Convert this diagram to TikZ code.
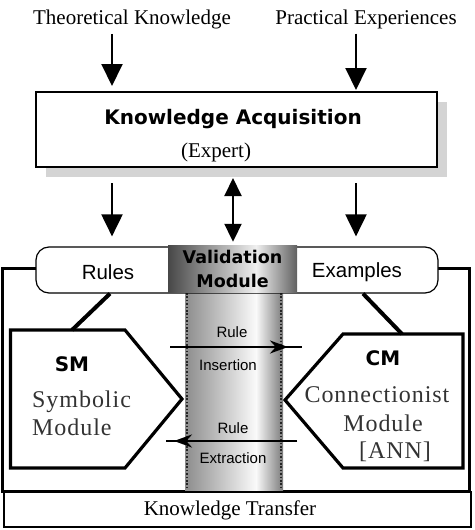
\documentclass[tikz,border=0pt]{standalone}
\usepackage{fontspec}
\setmainfont{Liberation Serif}
\newfontfamily\chifont{DejaVu Sans}
\newfontfamily\helv{Liberation Sans}
\newfontfamily\spacedserif[LetterSpace=4]{Liberation Serif}
\usetikzlibrary{arrows.meta}
\begin{document}
\begin{tikzpicture}[x=1pt,y=-1pt,
  arr/.style={line width=2pt,-{Triangle[width=21pt,length=22pt]}},
  darr/.style={line width=2pt,{Triangle[width=17pt,length=18pt]}-{Triangle[width=17pt,length=18pt]}},
  serif/.style={inner sep=0pt,font=\fontsize{21}{24}\selectfont},
  bigserif/.style={inner sep=0pt,text=black!80,font=\spacedserif\fontsize{24}{28}\selectfont},
  chi/.style={inner sep=0pt,font=\chifont\bfseries\fontsize{20}{24}\selectfont},
  smallsans/.style={inner sep=0pt,font=\helv\fontsize{15}{17}\selectfont},
  midsans/.style={inner sep=0pt,font=\helv\fontsize{20.5}{24}\selectfont},
  modshape/.style={line width=3.2pt,fill=white,line join=miter},
  link/.style={line width=4pt},
  ruleline/.style={line width=2.6pt}]
\useasboundingbox (0,0) rectangle (474,530);
\fill[white] (0,0) rectangle (474,530);

% reference x positions
\coordinate (lx) at (112,0);
\coordinate (mx) at (233,0);
\coordinate (rx) at (356,0);

% top texts
\node[serif] (theo) at (132,19) {Theoretical Knowledge};
\node[serif] (prac) at (366,19) {Practical Experiences};

% knowledge acquisition box
\fill[black!17] (46,102) rectangle (447,177);
\node[draw,line width=2pt,fill=white,minimum width=401pt,minimum height=75pt,inner sep=0pt] (ka) at (236.5,129.5) {};
\node[chi] (katitle) at (233,119) {Knowledge Acquisition};
\node[serif] (kaexp) at (216,152) {(Expert)};

\draw[arr,shorten <=5pt,shorten >=5pt] (lx |- theo.south) -- (lx |- ka.north);
\draw[arr,shorten <=5pt,shorten >=1pt] (rx |- prac.south) -- (rx |- ka.north);

% outer frame
\draw[line width=3pt] (2.5,268) rectangle (469,491.5);
% knowledge transfer
\node[draw,line width=2.6pt,fill=white,minimum width=467pt,minimum height=35pt,inner sep=0pt] (kt) at (237.5,509.5) {};
\node[serif] (kttext) at (230,510) {Knowledge Transfer};

% validation column (lower)
\shade[left color=black!45,right color=black!2] (185,292) rectangle (256,490);
\shade[left color=black!2,right color=black!52] (256,292) rectangle (283,490);
\node[minimum width=98pt,minimum height=198pt,inner sep=0pt] (col) at (234,391) {};
\draw[line width=1.6pt,dash pattern=on 1.6pt off 1.8pt,black!85] (187,293) -- (187,490);
\draw[line width=1.6pt,dash pattern=on 1.6pt off 1.8pt,black!85] (281,293) -- (281,490);

% rules / examples rounded box
\node[draw,line width=1.2pt,rounded corners=13pt,fill=white,minimum width=402pt,minimum height=46pt,inner sep=0pt] (rebox) at (237,270) {};
\node[midsans] (rules) at (108,272) {Rules};
\node[midsans] (examples) at (357,272) {Examples};

% validation module top
\shade[left color=black!72,right color=black!6] (168,245) rectangle (256,292);
\shade[left color=black!6,right color=black!62] (256,245) rectangle (297,292);
\node[minimum width=129pt,minimum height=47pt,inner sep=0pt] (val) at (232.5,268.5) {};
\node[chi,font=\chifont\bfseries\fontsize{17.5}{24}\selectfont,align=center] (valtext) at (232.5,268.5) {Validation\\Module};

% arrows below knowledge acquisition
\draw[arr,shorten <=15pt,shorten >=10pt] (lx |- ka.south) -- (lx |- rebox.north);
\draw[arr,shorten <=15pt,shorten >=10pt] (rx |- ka.south) -- (rx |- rebox.north);
\draw[darr,shorten <=10pt,shorten >=3pt] (mx |- ka.south) -- (mx |- val.north);

% symbolic module
\draw[modshape] (10.5,330) -- (125,330) -- (182,399) -- (125,468) -- (10.5,468) -- cycle;
\coordinate (smtop) at (72,330);
\node[chi] (smlabel) at (72,364) {SM};
\node[bigserif,anchor=west,align=left] (smname) at (32,413.5) {Symbolic\\Module};

% connectionist module
\draw[modshape] (463,334) -- (343,334) -- (285,400) -- (343,468) -- (463,468) -- cycle;
\coordinate (cmtop) at (402,334);
\node[chi] (cmlabel) at (383,358) {CM};
\node[bigserif] (cmname1) at (377,395) {Connectionist};
\node[bigserif] (cmname2) at (383,423) {Module};
\node[bigserif] (cmname3) at (395,452) {[ANN]};

% links
\draw[link] (rebox.south -| 110,0) -- (smtop);
\draw[link] (rebox.south -| 363,0) -- (cmtop);

% rule insertion / extraction
\coordinate (insL) at (170,347);
\coordinate (insT) at (288,347);
\coordinate (insR) at (302,347);
\draw[ruleline] (insL) -- (insR);
\draw[ruleline,-{Stealth[length=18pt,width=13pt]}] (insL) -- (insT);
\node[smallsans] (r1) at (232,332) {Rule};
\node[smallsans] (ins) at (228,365) {Insertion};

\coordinate (extR) at (297,441);
\coordinate (extT) at (174,441);
\coordinate (extL) at (166,441);
\draw[ruleline] (extR) -- (extL);
\draw[ruleline,-{Stealth[length=18pt,width=13pt]}] (extR) -- (extT);
\node[smallsans] (r2) at (233,428) {Rule};
\node[smallsans] (ext) at (233,458) {Extraction};
\end{tikzpicture}
\end{document}
